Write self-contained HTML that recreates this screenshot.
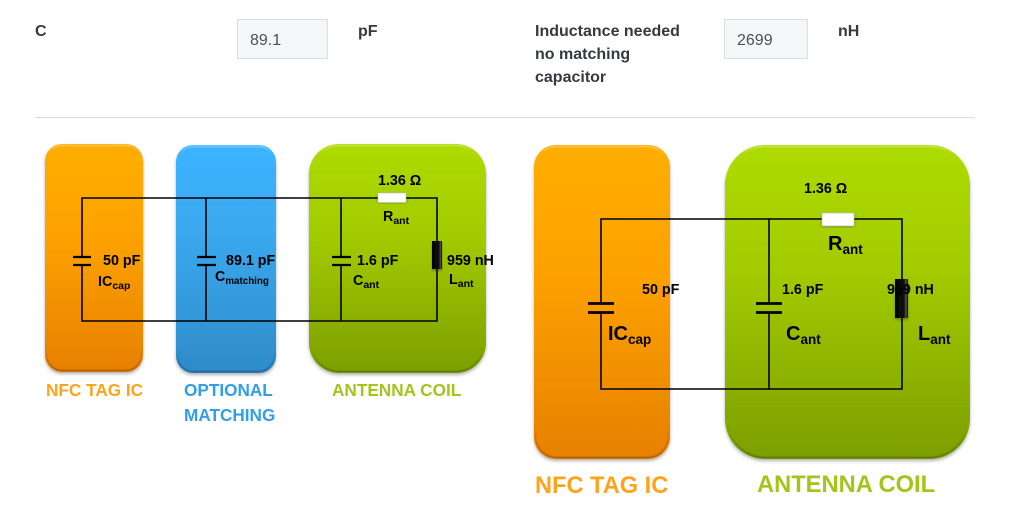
<!DOCTYPE html>
<html><head><meta charset="utf-8"><style>
html,body{margin:0;padding:0;background:#fff}
body{width:1018px;height:515px;overflow:hidden;position:relative}
svg{position:absolute;left:0;top:0}
text{font-family:"Liberation Sans",sans-serif;font-weight:bold;fill:#000}
.t{fill:#343a40;font-size:16px}
.s{font-size:14.300px}
.w{fill:none;stroke:#000;stroke-width:1.6}
.c{fill:none;stroke:#000;stroke-width:2.2}
.bv{fill:none;stroke-width:1.5}
</style></head><body>
<svg width="1018" height="515" viewBox="0 0 1018 515">
<defs>
<linearGradient id="o" x1="0" y1="0" x2="0" y2="1"><stop offset="0" stop-color="#ffad03"/><stop offset=".4" stop-color="#fda202"/><stop offset="1" stop-color="#e78005"/></linearGradient>
<linearGradient id="b" x1="0" y1="0" x2="0" y2="1"><stop offset="0" stop-color="#3bb4ff"/><stop offset=".4" stop-color="#3aa8ee"/><stop offset="1" stop-color="#2e8bc8"/></linearGradient>
<linearGradient id="g" x1="0" y1="0" x2="0" y2="1"><stop offset="0" stop-color="#aedb06"/><stop offset=".4" stop-color="#a2cb05"/><stop offset="1" stop-color="#7c9f02"/></linearGradient>
<linearGradient id="i" x1="0" y1="0" x2="1" y2="0"><stop offset="0" stop-color="#000"/><stop offset=".7" stop-color="#111"/><stop offset=".85" stop-color="#555"/><stop offset="1" stop-color="#000"/></linearGradient>
<linearGradient id="bev" x1="0" y1="0" x2="0" y2="1"><stop offset="0" stop-color="#fff" stop-opacity=".35"/><stop offset=".03" stop-color="#fff" stop-opacity="0"/><stop offset=".9" stop-color="#000" stop-opacity="0"/><stop offset="1" stop-color="#000" stop-opacity=".28"/></linearGradient>
<filter id="sh" x="-10%" y="-10%" width="120%" height="120%"><feDropShadow dx="0" dy="2" stdDeviation="1.500" flood-color="#000" flood-opacity=".3"/></filter>
<filter id="bl" x="-5%" y="-5%" width="110%" height="110%"><feGaussianBlur stdDeviation=".6"/></filter>
</defs>

<!-- header -->
<text class="t" x="35" y="36">C</text>
<rect x="237.500" y="19.500" width="90" height="39" fill="#f5f6f8" stroke="#dadde1"/>
<text x="250" y="45" style="font-weight:normal;font-size:16px;fill:#495057">89.1</text>
<text class="t" x="358" y="36">pF</text>
<text class="t" x="535" y="36">Inductance needed</text>
<text class="t" x="535" y="59">no matching</text>
<text class="t" x="535" y="82">capacitor</text>
<rect x="724.500" y="19.500" width="83" height="39" fill="#f5f6f8" stroke="#dadde1"/>
<text x="737" y="45" style="font-weight:normal;font-size:16px;fill:#495057">2699</text>
<text class="t" x="838" y="36">nH</text>
<rect x="35" y="117" width="940" height="1" fill="#dcdcdc"/>

<!-- left panels -->
<rect x="45" y="144" width="98" height="228" rx="17" fill="url(#o)" filter="url(#sh)"/>
<rect x="46.500" y="145.500" width="95" height="225" rx="16" class="bv" stroke="url(#bev)" filter="url(#bl)"/>
<rect x="176" y="145" width="100" height="228" rx="17" fill="url(#b)" filter="url(#sh)"/>
<rect x="177.500" y="146.500" width="97" height="225" rx="16" class="bv" stroke="url(#bev)" filter="url(#bl)"/>
<rect x="309" y="144" width="177" height="229" rx="30" fill="url(#g)" filter="url(#sh)"/>
<rect x="310.500" y="145.500" width="174" height="226" rx="29" class="bv" stroke="url(#bev)" filter="url(#bl)"/>

<!-- left wires -->
<path class="w" d="M82 256V198H437V241M437 269V321H82V265"/>
<path class="w" d="M206 198V256M206 265V321M341 198V256M341 265V321"/>
<path class="c" d="M73 257H91M73 265H91M197 257H216M197 265H216M332 257H351M332 265H351"/>
<rect x="378" y="193" width="28" height="9.500" fill="#fff" stroke="#bbb" stroke-width=".6" filter="url(#sh)"/>
<rect x="432" y="241" width="10" height="28" fill="url(#i)" filter="url(#sh)"/>

<text class="s" x="103" y="265">50 pF</text>
<text class="s" x="98" y="286">IC<tspan font-size="10.500" dy="3">cap</tspan></text>
<text class="s" x="226" y="265">89.1 pF</text>
<text class="s" x="215" y="281">C<tspan font-size="9.800" dy="3">matching</tspan></text>
<text class="s" x="357" y="265">1.6 pF</text>
<text class="s" x="353" y="285">C<tspan font-size="10.500" dy="3">ant</tspan></text>
<text font-size="14.300" x="378" y="185">1.36 Ω</text>
<text class="s" x="383" y="221">R<tspan font-size="10.500" dy="3">ant</tspan></text>
<text class="s" x="447" y="265">959 nH</text>
<text class="s" x="449" y="284">L<tspan font-size="10.500" dy="3">ant</tspan></text>

<text x="46" y="396" font-size="17.200" style="fill:#ffa31a">NFC TAG IC</text>
<text x="184" y="396" font-size="17.200" style="fill:#2f9fe8">OPTIONAL</text>
<text x="184" y="421" font-size="17.200" style="fill:#2f9fe8">MATCHING</text>
<text x="332" y="396" font-size="17.200" style="fill:#a1c51a">ANTENNA COIL</text>

<!-- right panels -->
<rect x="534" y="145" width="136" height="314" rx="22" fill="url(#o)" filter="url(#sh)"/>
<rect x="535.500" y="146.500" width="133" height="311" rx="21" class="bv" stroke="url(#bev)" filter="url(#bl)"/>
<rect x="725" y="145" width="245" height="314" rx="40" fill="url(#g)" filter="url(#sh)"/>
<rect x="726.500" y="146.500" width="242" height="311" rx="39" class="bv" stroke="url(#bev)" filter="url(#bl)"/>

<path class="w" d="M601 303V219H902V279M902 318V389H601V312"/>
<path class="w" d="M769 219V303M769 312V389"/>
<path d="M588 303.500H614M588 312.500H614M756 303.500H782M756 312.500H782" fill="none" stroke="#000" stroke-width="2.800"/>
<rect x="822" y="213" width="32" height="13" fill="#fff" stroke="#bbb" stroke-width=".6" filter="url(#sh)"/>
<rect x="895" y="279" width="13" height="39" fill="url(#i)" filter="url(#sh)"/>

<text class="s" x="642" y="294">50 pF</text>
<text x="608" y="340" font-size="20">IC<tspan font-size="13.500" dy="4">cap</tspan></text>
<text class="s" x="782" y="294">1.6 pF</text>
<text x="786" y="340" font-size="20">C<tspan font-size="13.500" dy="4">ant</tspan></text>
<text class="s" x="804" y="193">1.36 Ω</text>
<text x="828" y="250" font-size="20">R<tspan font-size="13.500" dy="4">ant</tspan></text>
<text class="s" x="887" y="294">959 nH</text>
<text x="918" y="340" font-size="20">L<tspan font-size="13.500" dy="4">ant</tspan></text>

<text x="535" y="493" font-size="23.600" style="fill:#ffa31a">NFC TAG IC</text>
<text x="757" y="492" font-size="23.700" style="fill:#a1c51a">ANTENNA COIL</text>
</svg>
</body></html>
